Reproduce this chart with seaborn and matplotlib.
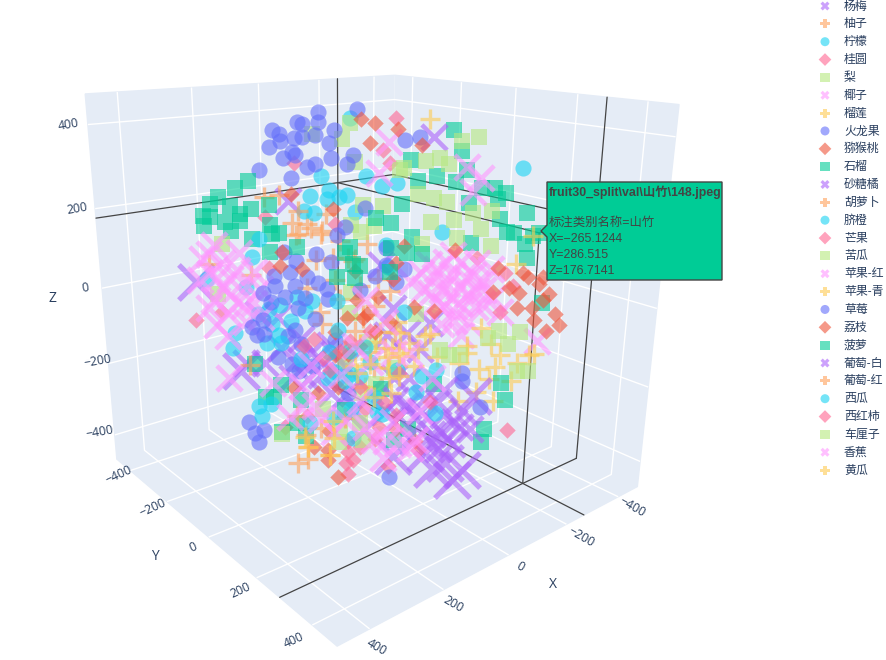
import numpy as np
import pandas as pd
import matplotlib
matplotlib.use("Agg")
import matplotlib.pyplot as plt
from matplotlib.patches import Polygon
import seaborn as sns

# hovered sample
HOVER_X, HOVER_Y, HOVER_Z = -265.1244, 286.515, 176.7141

shanzhu = [(-110,110,425),(-45,45,352),(-126,126,378),(-89,89,315),(-121,121,302),(-137,137,332),(-166,166,288),
           (-186,186,290),(-205,205,278),(-193,193,262),(-146,146,252),(-60,60,302),(-243,243,230),(-201,201,215),
           (-259,259,175),(HOVER_X,HOVER_Y,HOVER_Z),(-227,227,180),(-215,215,182),(-247,247,152),(-253,253,118),
           (-158,158,152),(-58,58,162),(-290,290,2)]
yangmei = [(155,-155,245),(-78,78,408),(163,-163,-55),(199,-199,-48),(217,-217,-172),(123,-123,-155),(101,-101,-138),
           (61,-61,-138),(183,-183,-168),(89,-89,-148),(104,-104,-205),(62,-62,-238),(-10,10,88),(-38,38,-22),
           (-104,104,-55),(-65,65,-80),(-30,30,-88),(48,-48,-162),(133,-133,-205),(81,-81,-192),(39,-39,-168),
           (-8,8,-230),(16,-16,-280),(68,-68,-118),(121,-121,-105),(155,-155,-130),(-50,50,-192),(-37,37,-280),
           (-76,76,-192),(-4,4,-330),(35,-35,-242),(-90,90,-118)]
youzi = [(197,-197,252),(171,-171,258),(147,-147,188),(134,-134,162),(121,-121,188),(94,-94,170),(90,-90,215),
         (139,-139,158),(114,-114,178),(96,-96,162),(101,-101,95),(73,-73,102),(35,-35,100),(16,-16,140),(115,-115,20)]
ningmeng = [(60,-60,450),(103,-103,308),(88,-88,275),(28,-28,312),(0,0,288),(118,-118,258),(128,-128,220),(111,-111,215),
            (90,-90,252),(57,-57,262),(-228,228,340),(-107,107,178),(-16,16,140),(-22,22,82),(69,-69,258),(41,-41,220),
            (-25,25,295)]
guiyuan = [(-14,14,452),(2,-2,375),(-11,11,345),(148,-148,338),(194,-194,202),(182,-182,70),(-220,220,78),(-236,236,45),
           (-171,171,115),(310,-310,-68),(74,-74,188),(264,-264,-48)]
li = [(121,-121,410),(71,-71,398),(47,-47,345),(60,-60,438),(-151,151,410),(-125,125,400),(-70,70,350),(-92,92,358),
      (-107,107,345),(-35,35,332),(-28,28,328),(-61,61,270),(-88,88,262),(-111,111,252),(-155,155,228),(-126,126,208),
      (-134,134,162),(-171,171,188),(-186,186,232),(-191,191,145),(-77,77,145),(-88,88,202)]
yezi = [(-91,91,95),(-119,119,102),(-144,144,102),(-172,172,102),(-197,197,88),(-104,104,62),(-132,132,70),(-156,156,62),
        (-186,186,52),(-88,88,28),(-118,118,28),(-147,147,38),(-176,176,28),(-205,205,12),(-125,125,-12),(-149,149,-5),
        (-178,178,-12),(-220,220,-22),(-144,144,-48),(-168,168,-48),(-158,158,-80),(-122,122,-55),(-189,189,-5),
        (-289,289,-88),(-6,6,395),(7,-7,320),(-161,161,312),(-152,152,278),(-137,137,338),(-130,130,120),(-106,106,82),
        (-126,126,45),(-162,162,20),(-136,136,8),(-110,110,-5),(-187,187,32),(-80,80,70),(-167,167,70),(-147,147,-30),
        (-100,100,20),(-64,64,45)]
liulian = [(-69,69,450),(-259,259,175),(-236,236,102),(-288,288,-118),(-261,261,-142),(-279,279,-122),(-223,223,-155),
           (-197,197,-162),(-215,215,-185),(-254,254,-188),(-195,195,-218),(-227,227,-238),(-166,166,-242),(-172,172,-122),
           (-161,161,-148)]
huolongguo = [(50,-50,470),(114,-114,462),(189,-189,418),(148,-148,438),(139,-139,432),(113,-113,438),(86,-86,420),
              (176,-176,408),(192,-192,375),(174,-174,390),(151,-151,400),(137,-137,402),(116,-116,408),(93,-93,388),
              (153,-153,365),(148,-148,358),(167,-167,350),(126,-126,330),(113,-113,338),(88,-88,352),(61,-61,338),
              (51,-51,362),(153,-153,302),(208,-208,320),(-32,32,400),(-55,55,408)]
mihoutao = [(-208,208,90),(-250,250,78),(-259,259,70),(-285,285,70),(-231,231,38),(-249,249,28),(-279,279,52),(-298,298,28),
            (-248,248,-12),(-273,273,-10),(-290,290,12),(-313,313,-22),(-279,279,-38),(-322,322,-48),(-302,302,-62),
            (-205,205,28),(-133,133,132)]
shiliu = [(226,-226,292),(247,-247,272),(275,-275,250),(290,-290,232),(254,-254,228),(219,-219,220),(236,-236,208),
          (300,-300,200),(288,-288,198),(263,-263,185),(237,-237,190),(299,-299,175),(251,-251,162),(215,-215,145),
          (187,-187,232),(184,-184,182),(169,-169,162),(181,-181,158),(183,-183,112)]
shatangju = [(311,-311,25),(226,-226,-192),(-192,192,-230),(85,315,-299),(37,363,-299),(53,347,-324),(147,253,-272),
             (64,336,-284),(96,304,-261)]
huluobo = [(288,-288,75),(213,-213,50),(67,-67,45),(89,-89,-38),(85,-85,-68),(14,-14,-42),(15,-15,-112),(-3,3,-130),
           (38,-38,95),(-7,7,52),(-30,30,20),(14,-14,-48),(-6,6,-18),(47,-47,102),(56,-56,-5),(26,-26,-80),(41,-41,-130),
           (-29,29,-118),(-44,44,-80),(-13,13,-168),(23,-23,32),(63,-63,145),(137,-137,220)]
qicheng = [(213,-213,98),(203,-203,145),(291,-291,35),(221,-221,18),(241,-241,-135),(238,-238,-98),(199,-199,-48),
           (180,-180,-35),(160,-160,-25),(174,-174,-72),(159,-159,-98),(181,-181,-118),(131,-131,-5),(140,-140,-62),
           (115,-115,-38),(104,-104,-12)]
mangguo = [(102,-102,-300),(24,-24,-360),(200,200,-256),(176,224,-234),(219,181,-268),(222,178,-295),(210,190,-288),
           (219,181,-324),(155,245,-299),(-30,30,-320),(-2,2,-275)]
kugua = [(29,-29,238),(47,-47,188),(29,-29,170),(7,-7,188),(-5,5,238),(38,-38,15),(267,-267,128),(271,-271,-5),
         (36,-36,-38),(-77,77,-35),(-19,19,-210),(5,-5,-235),(40,-40,-330),(-2,2,-105),(39,-39,-155),(-48,48,-168)]
pingguo_hong = [(289,-289,102),(300,-300,88),(265,-265,78),(239,-239,62),(287,-287,52),(251,-251,38),(220,-220,20),
                (262,-262,12),(235,-235,-22),(252,-252,-48),(207,-207,-22),(197,-197,12),(273,-273,38),(224,-224,-30),
                (287,-287,-38),(252,-252,-105),(277,-277,-18),(303,-303,32),(281,-281,125),(236,-236,108),(208,-208,58),
                (249,-249,-5),(219,-219,-68),(271,-271,-80),(193,-193,-55)]
pingguo_qing = [(-192,192,-62),(-171,171,-105),(-211,211,-98),(-230,230,-125),(-97,97,-85),(-47,47,-55),(-121,121,-135),
                (-53,53,-80),(15,-15,-112),(-4,4,-148),(-18,18,-80),(-61,61,-138),(-86,86,-118),(-41,41,-118),(22,-22,-168),
                (-10,10,-105),(-39,39,-168),(-71,71,-105),(-83,83,-160),(-105,105,-80),(37,-37,-192),(1,-1,-218)]
caomei = [(158,-158,112),(136,-136,90),(146,-146,62),(173,-173,48),(171,-171,22),(136,-136,25),(96,-96,35),(80,-80,20),
          (115,-115,50),(191,-191,2),(152,-152,-5),(129,-129,-30),(77,-77,-5),(97,-97,-55),(209,-209,-80),(189,-189,-62),
          (131,-131,-85),(144,-144,-100),(186,-186,-98),(200,-200,-100),(160,-160,-152),(102,-102,110),(75,-75,90),
          (68,-68,162),(135,-135,-168),(121,-121,-185),(99,-99,-172),(208,-208,-322),(197,-197,-350),(181,-181,-342),
          (362,38,-254),(30,-30,-235),(152,248,-324),(-168,168,-172),(-169,169,-192),(-205,205,-255),(-19,19,88),(-50,50,78),
          (117,-117,-5),(177,-177,-18),(120,-120,-118),(60,-60,-105),(22,-22,20),(-2,2,58),(-16,16,132),(-38,38,45),
          (56,-56,182),(24,-24,232)]
lizhi = [(43,-43,448),(19,-19,438),(25,-25,390),(-19,19,425),(-60,60,388),(151,-151,262),(162,-162,112),(163,-163,75),
         (125,-125,70),(79,-79,228),(61,-61,-85),(42,-42,-50),(14,-14,-48),(26,-26,-5),(35,-35,-138),(-32,32,52),
         (-35,35,95),(-47,47,138),(-73,73,-18),(-108,108,-25),(7,-7,-38),(-9,9,2),(272,128,-261),(251,149,-266),
         (250,150,-292),(235,165,-333),(128,-128,-230),(84,-84,-238),(49,-49,-222),(142,-142,-330),(60,-60,-335),
         (-9,9,-80),(15,-15,-118),(-34,34,-55),(58,-58,-142),(34,-34,70)]
boluo = [(53,-53,115),(37,-37,88),(64,-64,52),(33,-33,52),(136,-136,128),(201,-201,-172),(153,-153,-222),(179,-179,-255),
         (165,-165,-255),(115,-115,-258),(119,-119,-320),(147,-147,-345),(285,115,-234),(-28,28,-222),(-120,120,-202),
         (-238,238,-192),(-248,248,-235),(-217,217,-312),(-215,215,-345),(146,254,-234),(-82,82,-322),(-24,24,132),
         (-52,52,120),(45,-45,132),(25,-25,82),(-27,27,70),(33,-33,-280),(-78,78,120),(5,-5,208),(-21,21,195),(-37,37,245)]
putao_bai = [(-164,164,-298),(-140,140,-322),(-174,174,-310),(-193,193,-312),(-153,153,-338),(-104,104,-305),(-79,79,-262),
             (-56,56,-248),(-74,74,-262),(-103,103,-272),(-131,131,-248),(88,312,-234),(77,323,-250),(-142,142,-280),
             (-176,176,-268),(-126,126,-330),(-163,163,-355),(-93,93,-355),(-64,64,-292),(-105,105,-242),(-139,139,-218)]
putao_hong = [(210,-210,-175),(120,-120,-300),(103,-103,-350),(283,117,-261),(299,101,-302),(283,117,-290),(75,-75,-330),
              (32,-32,-300),(248,152,-279)]
xigua = [(56,-56,-80),(61,-61,-10),(70,-70,-135),(191,-191,-280),(185,-185,-305),(170,-170,-272),(96,-96,-318),(53,-53,-300),
         (69,-69,-200),(56,-56,-185),(29,-29,-188),(11,-11,-192),(24,-24,-275),(-24,24,-280),(15,-15,-352),(-90,90,-225),
         (-98,98,-185),(-122,122,-168),(-128,128,-275),(-53,53,-172),(-33,33,-285),(-56,56,-30),(118,-118,-155),(155,-155,-118),
         (32,-32,-130),(-5,5,-155),(37,-37,-205),(6,-6,-118),(-17,17,-242)]
xihongshi = [(-258,258,-310),(107,293,-254),(-96,96,-350),(-117,117,-248),(-60,60,-322),(-59,59,-285),(98,-98,-105),
             (115,-115,-122),(80,-80,-150),(-220,220,-22),(65,-65,-180),(33,-33,-105),(-1,1,-80),(-36,36,-255),(10,-10,-218),
             (-58,58,-180),(50,-50,-130)]
chelizi = [(-258,258,-68),(-222,222,-68),(-205,205,-85),(-142,142,-130),(-125,125,-118),(-160,160,-130),(-262,262,-162),
           (-281,281,-162),(-241,241,-98),(74,-74,-280),(232,168,-245),(6,-6,-310),(-2,2,-355),(147,-147,-350)]
xiangjiao = [(247,-247,-210),(115,-115,-222),(89,-89,-272),(134,-134,-305),(51,-51,-338),(-7,7,-322),(-44,44,-355),
             (163,237,-279),(-96,96,-348),(-116,116,-188),(-98,98,-272),(139,261,-243),(24,-24,-118),(-5,5,-155),(-46,46,-130),
             (76,-76,-305),(32,-32,-305),(8,-8,-255),(-55,55,-305),(120,280,-250),(-23,23,-355),(112,-112,-280),(46,-46,-192),
             (100,-100,-168),(167,-167,-218),(-72,72,-130),(-26,26,-55),(12,-12,-5)]
huanggua = [(-47,47,-230),(-58,58,-188),(-35,35,-142),(-55,55,-130),(17,-17,-185),(-41,41,-192),(-5,5,-160),(55,-55,-310),
            (50,-50,-355),(248,152,-279),(104,-104,-355),(283,117,-261),(-17,17,-242)]

# name, points, style of the trace; 山竹 sits above the cut-off legend
TRACES = [
    ("山竹", shanzhu, "teal"), ("杨梅", yangmei, "purple"), ("柚子", youzi, "orange"), ("柠檬", ningmeng, "cyan"),
    ("桂圆", guiyuan, "pink"), ("梨", li, "lime"), ("椰子", yezi, "magenta"), ("榴莲", liulian, "yellow"),
    ("火龙果", huolongguo, "blue"), ("猕猴桃", mihoutao, "red"), ("石榴", shiliu, "teal"), ("砂糖橘", shatangju, "purple_big"),
    ("胡萝卜", huluobo, "orange"), ("脐橙", qicheng, "cyan"), ("芒果", mangguo, "pink"), ("苦瓜", kugua, "lime"),
    ("苹果-红", pingguo_hong, "magenta"), ("苹果-青", pingguo_qing, "yellow"), ("草莓", caomei, "blue"), ("荔枝", lizhi, "red"),
    ("菠萝", boluo, "teal"), ("葡萄-白", putao_bai, "purple"), ("葡萄-红", putao_hong, "orange"), ("西瓜", xigua, "cyan"),
    ("西红柿", xihongshi, "pink"), ("车厘子", chelizi, "lime"), ("香蕉", xiangjiao, "magenta"), ("黄瓜", huanggua, "yellow"),
]

pal = sns.color_palette(["#636EFA", "#EF553B", "#00CC96", "#AB63FA", "#FFA15A",
                         "#19D3F3", "#FF6692", "#B6E880", "#FF97FF", "#FECB52"])
STYLES = {
    "blue": dict(color=pal[0], marker="o", s=135, linewidths=0),
    "red": dict(color=pal[1], marker="D", s=70, linewidths=0),
    "teal": dict(color=pal[2], marker="s", s=135, linewidths=0),
    "purple": dict(color=pal[3], marker="x", s=330, linewidths=3.3),
    "purple_big": dict(color=pal[3], marker="x", s=640, linewidths=3.8),
    "orange": dict(color=pal[4], marker="+", s=215, linewidths=2.4),
    "cyan": dict(color=pal[5], marker="o", s=135, linewidths=0),
    "pink": dict(color=pal[6], marker="D", s=70, linewidths=0),
    "lime": dict(color=pal[7], marker="s", s=135, linewidths=0),
    "magenta": dict(color=pal[8], marker="x", s=330, linewidths=3.3),
    "yellow": dict(color=pal[9], marker="+", s=215, linewidths=2.4),
}
LEGEND_MARK = {"o": "o", "D": "D", "s": "s", "x": "X", "+": "P"}


def tidy_reading(pts):
    # readings on the x=-y plane came with a small skew from the camera estimate, take it out
    df = pd.DataFrame(pts, columns=["x", "y", "z"])
    on_plane = (df["x"] + df["y"]).abs() < 1
    skew = 0.049 * df["z"]
    df.loc[on_plane, "x"] -= skew[on_plane]
    df.loc[on_plane, "y"] += skew[on_plane]
    df.loc[on_plane, "z"] *= np.where(df.loc[on_plane, "z"] > 0, 0.95, 1.067)
    return df


sns.set_theme(style="white", rc={"grid.color": "white", "grid.linewidth": 1.0})
plt.rcParams["font.family"] = ["Open Sans", "Noto Sans CJK SC", "DejaVu Sans"]
plt.rcParams["axes.unicode_minus"] = True
INK = "#2a3f5f"

W, H = 887, 660
PANE_XY = 480.0
PANE_Z = 470.0
fig = plt.figure(figsize=(W / 100, H / 100), dpi=100, facecolor="white")
ax = fig.add_subplot(111, projection="3d", computed_zorder=False)
ax.set_xlim(-PANE_XY, PANE_XY)
ax.set_ylim(-PANE_XY, PANE_XY)
ax.set_zlim(-PANE_Z, PANE_Z)
ax.view_init(elev=18.068, azim=50.184, roll=-0.477)
ax.set_proj_type("persp", focal_length=0.259)
ax.set_box_aspect((1, 1, 0.9932))

# camera fit: scale and centre in pixels; the 2D view limits are not symmetric
FIT_S, FIT_U, FIT_V = 3570.57, 372.25, 298.04
x0, x1 = ax.viewLim.intervalx
y0, y1 = ax.viewLim.intervaly
ax.set_position([(FIT_U + FIT_S * x0) / W, (H - FIT_V + FIT_S * y0) / H, FIT_S * (x1 - x0) / W, FIT_S * (y1 - y0) / H])
ax.patch.set_alpha(0)

ticks = [-400, -200, 0, 200, 400]
for axis, setter in ((ax.xaxis, ax.set_xticks), (ax.yaxis, ax.set_yticks), (ax.zaxis, ax.set_zticks)):
    setter(ticks)
    axis.set_ticklabels([])
    axis.set_pane_color("#E5ECF6")
    axis.pane.set_edgecolor("#E5ECF6")
    axis.line.set_color((0, 0, 0, 0))
    axis._axinfo["tick"]["inward_factor"] = 0
    axis._axinfo["tick"]["outward_factor"] = 0
    axis._axinfo["grid"]["color"] = "white"
    axis._axinfo["grid"]["linewidth"] = 1.0

# spikes of the hovered point, on the walls and the floor
spikes = [
    ([PANE_XY, -PANE_XY], [-PANE_XY, -PANE_XY], [HOVER_Z, HOVER_Z]),
    ([HOVER_X, HOVER_X], [-PANE_XY, -PANE_XY], [-PANE_Z, PANE_Z]),
    ([-PANE_XY, -PANE_XY], [-PANE_XY, PANE_XY], [HOVER_Z, HOVER_Z]),
    ([-PANE_XY, -PANE_XY], [HOVER_Y, HOVER_Y], [-PANE_Z, PANE_Z]),
    ([-PANE_XY, PANE_XY], [HOVER_Y, HOVER_Y], [-PANE_Z, -PANE_Z]),
    ([HOVER_X, HOVER_X], [-PANE_XY, PANE_XY], [-PANE_Z, -PANE_Z]),
    ([HOVER_X, HOVER_X], [-PANE_XY, HOVER_Y], [HOVER_Z, HOVER_Z]),
    ([-PANE_XY, HOVER_X], [HOVER_Y, HOVER_Y], [HOVER_Z, HOVER_Z]),
    ([HOVER_X, HOVER_X], [HOVER_Y, HOVER_Y], [-PANE_Z, HOVER_Z]),
]
for sx, sy, sz in spikes:
    ax.plot(sx, sy, sz, color="#444444", lw=0.9, zorder=2)

for i, (name, pts, style) in enumerate(TRACES):
    df = tidy_reading(pts)
    ax.scatter(df["x"], df["y"], df["z"], alpha=0.6, depthshade=False, zorder=3 + i, label=name, **STYLES[style])

# pixel overlay for axis texts, legend and hover box
over = fig.add_axes([0, 0, 1, 1], zorder=10)
over.set_xlim(0, W)
over.set_ylim(H, 0)
over.axis("off")

tick_labels = ["\u2212400", "\u2212200", "0", "200", "400"]
for lab, u, v in zip(tick_labels, [632, 581, 520, 453, 377], [507, 537, 567, 604, 647]):
    over.text(u, v, lab, color=INK, fontsize=8.8, rotation=-30, ha="center", va="center")
for lab, u, v in zip(tick_labels, [119, 153, 193, 240, 294], [475, 508, 547, 590, 640]):
    over.text(u, v, lab, color=INK, fontsize=8.8, rotation=25, ha="center", va="center")
for lab, u, v in zip(tick_labels, [100, 98, 85, 77, 68], [432, 361, 288, 209, 125]):
    over.text(u, v, lab, color=INK, fontsize=8.8, rotation=10, ha="center", va="center")
for lab, u, v in (("X", 553, 584), ("Y", 155, 557), ("Z", 52, 299)):
    over.text(u, v, lab, color=INK, fontsize=10, ha="center", va="center")

# legend starts part way down the list, the first rows are scrolled away
legend_rows = [t for t in TRACES if t[0] != "山竹"]
legend_df = pd.DataFrame({
    "x": 825.0,
    "y": [6 + 17.85 * i for i in range(len(legend_rows))],
    "name": [t[0] for t in legend_rows],
})
sns.scatterplot(
    data=legend_df, x="x", y="y", hue="name", style="name", ax=over, legend=False, alpha=0.6, s=42, linewidth=0,
    palette={t[0]: STYLES[t[2]]["color"] for t in legend_rows},
    markers={t[0]: LEGEND_MARK[STYLES[t[2]]["marker"]] for t in legend_rows},
)
over.set_xlim(0, W)
over.set_ylim(H, 0)
for _, row in legend_df.iterrows():
    over.text(844, row["y"], row["name"], color=INK, fontsize=8.6, va="center", ha="left")

HOVER_FONT = ["Liberation Sans", "Noto Sans CJK SC", "DejaVu Sans"]
box = Polygon([(547, 182), (722, 182), (722, 280), (547, 280), (547, 237), (541, 231), (547, 225)],
              closed=True, facecolor="#00CC96", edgecolor="#444444", lw=1.0, zorder=20)
over.add_patch(box)
over.text(549, 192, "fruit30_split\\val\\山竹\\148.jpeg", color="#444444", fontsize=8.9, fontweight="bold",
          family=HOVER_FONT, va="center", zorder=21)
hover_lines = ["标注类别名称=山竹", "X=\u2212265.1244", "Y=286.515", "Z=176.7141"]
for txt, v in zip(hover_lines, [223, 239, 255, 271]):
    over.text(549, v, txt, color="#444444", fontsize=8.9, family=HOVER_FONT, va="center", zorder=21)

fig.savefig("out.png", dpi=100, facecolor="white")
